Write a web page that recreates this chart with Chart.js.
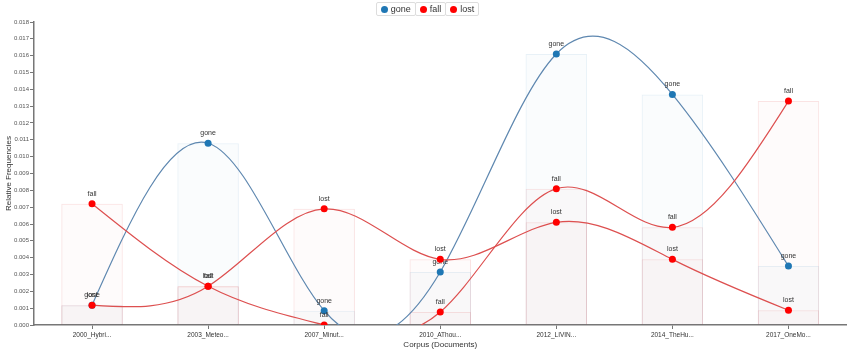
<!DOCTYPE html>
<html><head><meta charset="utf-8">
<script src="https://cdn.jsdelivr.net/npm/chart.js@4.4.1/dist/chart.umd.min.js"></script>
<style>
html,body{margin:0;padding:0;background:#fff;}
#wrap{position:relative;width:850px;height:353px;}
#legend{position:absolute;top:2px;left:0;width:856px;display:flex;justify-content:center;font:9px "Liberation Sans",Arial,sans-serif;color:#333;}
.item{display:flex;align-items:center;border:1px solid #ddd;border-radius:2px;padding:0 4px 0 4px;margin:0 0 0 -1px;height:12px;}
.dot{width:7px;height:7px;border-radius:50%;margin-right:3px;}
</style></head><body>
<div id="wrap"><canvas id="c" width="850" height="353"></canvas><div id="legend"></div></div>
<script>
const categories = ['2000_Hybri...', '2003_Meteo...', '2007_Minut...', '2010_AThou...', '2012_LIVIN...', '2014_TheHu...', '2017_OneMo...'];
const seriesNames = ['gone', 'fall', 'lost'];
const gone = [0.00118, 0.0108, 0.00085, 0.00315, 0.0161, 0.0137, 0.0035];
const fall = [0.0072, 0.0023, 0.0000, 0.00077, 0.0081, 0.0058, 0.0133];
const lost = [0.00118, 0.0023, 0.0069, 0.0039, 0.0061, 0.0039, 0.00088];
const yTickLabels = ['0.000','0.001','0.002','0.003','0.004','0.005','0.006','0.007','0.008','0.009','0.010','0.011','0.012','0.013','0.014','0.015','0.016','0.017','0.018'];

const FONT = '"Liberation Sans", Arial, sans-serif';
const seriesValues = [gone, fall, lost];
const pointColors = ['#1f77b4', '#ff0000', '#ff0000'];
const lineColors = ['#5f88b0', '#dd5050', '#dd5050'];
const barFill = ['rgba(31,119,180,0.025)', 'rgba(214,39,40,0.018)', 'rgba(214,39,40,0.018)'];
const barBorder = ['rgba(31,119,180,0.10)', 'rgba(214,39,40,0.13)', 'rgba(214,39,40,0.13)'];

// legend
const lg = document.getElementById('legend');
seriesNames.forEach((n, i) => {
  const it = document.createElement('div'); it.className = 'item';
  const d = document.createElement('span'); d.className = 'dot'; d.style.background = pointColors[i];
  const t = document.createElement('span'); t.textContent = n;
  it.appendChild(d); it.appendChild(t); lg.appendChild(it);
});

function ctrl(x) {
  let i, n = x.length - 1, m, a = new Array(n), b = new Array(n), r = new Array(n);
  a[0] = 0; b[0] = 2; r[0] = x[0] + 2 * x[1];
  for (i = 1; i < n - 1; ++i) { a[i] = 1; b[i] = 4; r[i] = 4 * x[i] + 2 * x[i + 1]; }
  a[n - 1] = 2; b[n - 1] = 7; r[n - 1] = 8 * x[n - 1] + x[n];
  for (i = 1; i < n; ++i) { m = a[i] / b[i - 1]; b[i] -= m; r[i] -= m * r[i - 1]; }
  a[n - 1] = r[n - 1] / b[n - 1];
  for (i = n - 2; i >= 0; --i) a[i] = (r[i] - a[i + 1]) / b[i];
  b[n - 1] = (x[n] + a[n - 1]) / 2;
  for (i = 0; i < n - 1; ++i) b[i] = 2 * x[i + 1] - a[i + 1];
  return [a, b];
}

const curvePlugin = {
  id: 'naturalCurve',
  beforeDatasetDraw(chart, args) {
    const ds = chart.data.datasets[args.index];
    if (ds.type !== 'line') return;
    const pts = args.meta.data;
    const xs = pts.map(p => p.x), ys = pts.map(p => p.y);
    const [ax, bx] = ctrl(xs), [ay, by] = ctrl(ys);
    const ctx = chart.ctx, a = chart.chartArea;
    ctx.save();
    ctx.beginPath(); ctx.rect(a.left, a.top, a.right - a.left, a.bottom - a.top); ctx.clip();
    ctx.beginPath(); ctx.moveTo(xs[0], ys[0]);
    for (let i = 0; i < xs.length - 1; i++) ctx.bezierCurveTo(ax[i], ay[i], bx[i], by[i], xs[i + 1], ys[i + 1]);
    ctx.strokeStyle = ds.curveColor; ctx.lineWidth = 1.2; ctx.stroke();
    ctx.restore();
  },
  afterDatasetDraw(chart, args) {
    const ds = chart.data.datasets[args.index];
    if (ds.type !== 'line') return;
    const ctx = chart.ctx;
    ctx.save();
    ctx.font = '7px ' + FONT; ctx.fillStyle = '#333'; ctx.textAlign = 'center'; ctx.textBaseline = 'middle';
    args.meta.data.forEach(p => ctx.fillText(ds.label, p.x, p.y - 10));
    ctx.restore();
  }
};

const datasets = [];
seriesNames.forEach((n, i) => {
  datasets.push({ type: 'bar', label: n + ' bar', data: seriesValues[i], backgroundColor: barFill[i], borderColor: barBorder[i], borderWidth: 1, grouped: false, barPercentage: 0.53, categoryPercentage: 1, order: 10 + i });
});
seriesNames.forEach((n, i) => {
  datasets.push({ type: 'line', label: n, data: seriesValues[i], showLine: false, pointRadius: 3.5, pointHoverRadius: 3.5, pointBackgroundColor: pointColors[i], pointBorderWidth: 0, curveColor: lineColors[i], order: 3 - i });
});

new Chart(document.getElementById('c'), {
  type: 'bar',
  data: { labels: categories, datasets },
  plugins: [curvePlugin],
  options: {
    responsive: false, animation: false,
    layout: { padding: { top: 22, right: -3, left: 0, bottom: 0 } },
    plugins: { legend: { display: false }, tooltip: { enabled: false } },
    scales: {
      x: {
        type: 'category', offset: true,
        grid: { display: true, drawOnChartArea: false, drawTicks: true, tickLength: 4, offset: false, color: '#777' },
        border: { display: true, color: '#777', width: 1.5 },
        ticks: { font: { size: 6.5, family: FONT }, color: '#333', padding: 2, maxRotation: 0, autoSkip: false },
        title: { display: true, text: 'Corpus (Documents)', font: { size: 8, family: FONT }, color: '#333', padding: { top: 0, bottom: 3 } },
        afterFit(s) { s.height = 28; s.paddingLeft = 0; s.paddingRight = 0; }
      },
      y: {
        min: 0, max: 0.018,
        ticks: { stepSize: 0.001, callback: (v, i) => yTickLabels[i], font: { size: 6, family: FONT }, color: '#555', padding: 1 },
        grid: { display: true, drawOnChartArea: false, tickLength: 4, color: '#777' },
        border: { display: true, color: '#777', width: 1.5 },
        title: { display: true, text: 'Relative Frequencies', font: { size: 8, family: FONT }, color: '#333', padding: { top: 4, bottom: 0 } },
        afterFit(s) { s.width = 34; }
      }
    }
  }
});
</script>
</body></html>
